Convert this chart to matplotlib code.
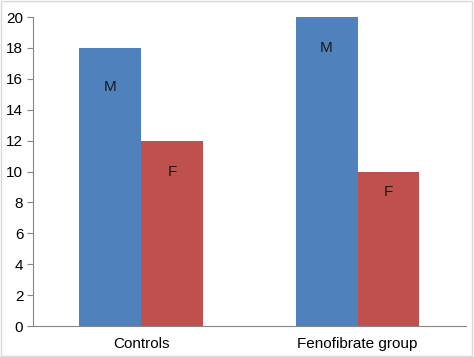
import matplotlib
matplotlib.use("Agg")
import matplotlib.pyplot as plt
import numpy as np
from matplotlib.patches import Rectangle

categories = ["Controls", "Fenofibrate group"]
male = [18, 20]
female = [12, 10]
male_label_y = [15.5, 18.0]
female_label_y = [10.0, 8.7]

plt.rcParams["font.family"] = ["Liberation Sans", "DejaVu Sans"]

fig = plt.figure(figsize=(4.74, 3.57), dpi=100)
ax = fig.add_axes([0.0696, 0.0868, 0.913, 0.8655])

x = np.arange(len(categories))
w = 0.286
blue = "#4F81BD"
red = "#C0504D"
ax.bar(x - w / 2, male, width=w, color=blue)
ax.bar(x + w / 2, female, width=w, color=red)

for xi, y in zip(x, male_label_y):
    ax.text(xi - w / 2, y, "M", ha="center", va="center", fontsize=11, color="#1a1a1a")
for xi, y in zip(x, female_label_y):
    ax.text(xi + w / 2, y, "F", ha="center", va="center", fontsize=11, color="#1a1a1a")

ax.set_xlim(-0.5, 1.5)
ax.set_ylim(0, 20)
ax.set_yticks(range(0, 21, 2))
ax.set_xticks(x)
ax.set_xticklabels(categories)
ax.tick_params(axis="y", length=4, color="#868686", labelsize=11, pad=3)
ax.tick_params(axis="x", length=0, labelsize=11, pad=8)

for side in ("top", "right"):
    ax.spines[side].set_visible(False)
for side in ("left", "bottom"):
    ax.spines[side].set_color("#868686")

fig.patches.append(Rectangle((0.002, 0.002), 0.994, 0.994, transform=fig.transFigure,
                             fill=False, edgecolor="#d9d9d9", linewidth=1))

fig.savefig("out.png", dpi=100)
